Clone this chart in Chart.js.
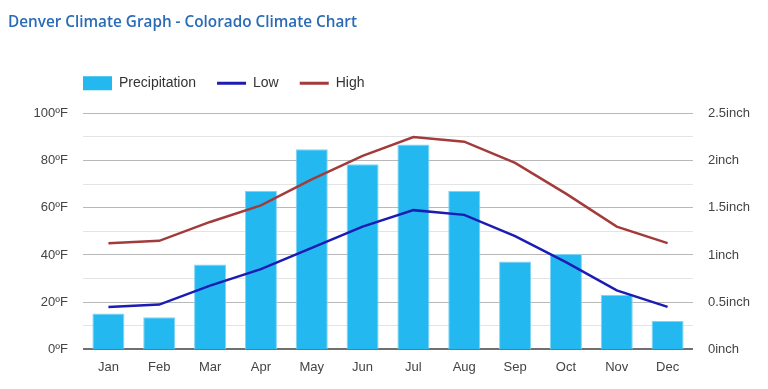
<!DOCTYPE html>
<html>
<head>
<meta charset="utf-8">
<script src="https://cdn.jsdelivr.net/npm/chart.js@4"></script>
<style>
  html, body { margin: 0; padding: 0; background: #fff; }
  #wrap { width: 768px; height: 389px; position: relative; }
</style>
</head>
<body>
<div id="wrap"><canvas id="chart"></canvas></div>
<script>
const months = ['Jan', 'Feb', 'Mar', 'Apr', 'May', 'Jun', 'Jul', 'Aug', 'Sep', 'Oct', 'Nov', 'Dec'];
const precipitation = [0.38, 0.34, 0.9, 1.68, 2.12, 1.96, 2.17, 1.68, 0.93, 1.01, 0.58, 0.3];
const lowTemps = [18, 19, 27, 34, 43, 52, 59, 57, 48, 37, 25, 18];
const highTemps = [45, 46, 54, 61, 72, 82, 90, 88, 79, 66, 52, 45];

const tempTicks = [0, 20, 40, 60, 80, 100];
const inchTicks = [0, 0.5, 1, 1.5, 2, 2.5];

const textColor = '#444';
const axisFont = { family: 'Liberation Sans, Arial, sans-serif', size: 13 };

// put the legend at the plot's left edge and a bit higher above it
const legendShift = {
  id: 'legendShift',
  afterLayout(chart) {
    const lg = chart.legend;
    lg.left = chart.chartArea.left - lg.options.labels.padding;
    lg.top -= 13;
  }
};

const ctx = document.getElementById('chart').getContext('2d');
new Chart(ctx, {
  type: 'bar',
  data: {
    labels: months,
    datasets: [
      {
        label: 'Precipitation',
        data: precipitation,
        yAxisID: 'yIn',
        backgroundColor: '#23b8ef',
        borderColor: '#7fd3f4',
        borderWidth: 1,
        barPercentage: 0.63,
        categoryPercentage: 1,
        order: 1
      },
      {
        label: 'Low',
        type: 'line',
        data: lowTemps,
        yAxisID: 'yTemp',
        borderColor: '#1c1cb4',
        backgroundColor: '#1c1cb4',
        borderWidth: 2.5,
        pointRadius: 0,
        tension: 0,
        order: 0
      },
      {
        label: 'High',
        type: 'line',
        data: highTemps,
        yAxisID: 'yTemp',
        borderColor: '#a33b3b',
        backgroundColor: '#a33b3b',
        borderWidth: 2.5,
        pointRadius: 0,
        tension: 0,
        order: 0
      }
    ]
  },
  options: {
    responsive: true,
    maintainAspectRatio: false,
    animation: false,
    layout: { padding: { left: 8, right: 0, top: 0, bottom: 4 } },
    plugins: {
      title: {
        display: true,
        text: 'Denver Climate Graph - Colorado Climate Chart',
        align: 'start',
        color: '#2a6bb8',
        font: { family: 'Open Sans, sans-serif', size: 15.3, weight: '600' },
        padding: { top: 13, bottom: 37 }
      },
      legend: {
        display: true,
        position: 'top',
        align: 'start',
        fullSize: false,
        labels: {
          color: '#333',
          font: { family: 'Liberation Sans, Arial, sans-serif', size: 14 },
          usePointStyle: true,
          pointStyleWidth: 29,
          boxHeight: 14,
          padding: 21,
          sort: (a, b) => a.datasetIndex - b.datasetIndex,
          generateLabels(chart) {
            const items = Chart.defaults.plugins.legend.labels.generateLabels(chart);
            items.forEach(it => {
              const ds = chart.data.datasets[it.datasetIndex];
              if (ds.type === 'line') {
                it.pointStyle = 'line';
                it.lineWidth = 3;
                it.strokeStyle = ds.borderColor;
              } else {
                it.pointStyle = 'rect';
                it.lineWidth = 0;
                it.fillStyle = ds.backgroundColor;
              }
            });
            return items;
          }
        }
      },
      tooltip: { enabled: false }
    },
    scales: {
      x: {
        grid: { display: false, drawTicks: false },
        border: { display: false },
        ticks: { color: textColor, font: axisFont, padding: 10 }
      },
      yTemp: {
        position: 'left',
        min: 0,
        max: 100,
        afterFit(scale) { scale.width = 75; },
        afterBuildTicks(scale) {
          scale.ticks = [];
          for (let v = 0; v <= 100; v += 10) scale.ticks.push({ value: v });
        },
        grid: {
          drawTicks: false,
          color: c => c.tick.value === 0 ? '#707070' : (c.tick.value % 20 === 0 ? '#b8b8b8' : '#e4e4e4'),
          lineWidth: c => c.tick.value === 0 ? 2 : 1
        },
        border: { display: false },
        ticks: {
          color: textColor,
          font: axisFont,
          padding: 15,
          callback: v => tempTicks.includes(v) ? v + 'ºF' : ''
        }
      },
      yIn: {
        position: 'right',
        min: 0,
        max: 2.5,
        afterFit(scale) { scale.width = 75; },
        afterBuildTicks(scale) {
          scale.ticks = inchTicks.map(v => ({ value: v }));
        },
        grid: { display: false, drawTicks: false },
        border: { display: false },
        ticks: {
          color: textColor,
          font: axisFont,
          padding: 15,
          callback: v => v + 'inch'
        }
      }
    }
  },
  plugins: [legendShift]
});
</script>
</body>
</html>
